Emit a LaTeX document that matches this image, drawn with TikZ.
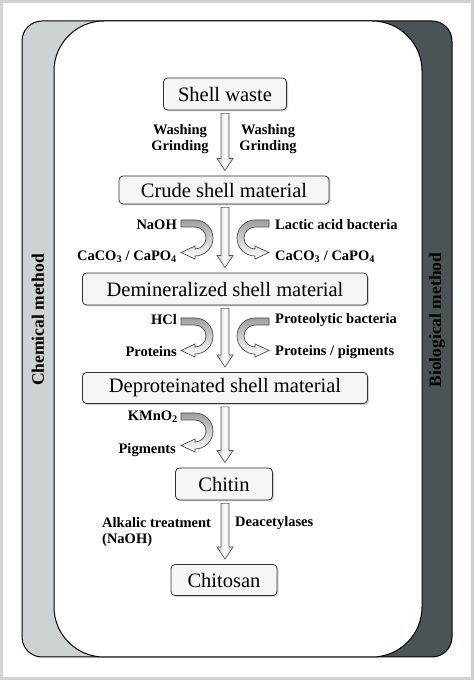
\documentclass[tikz,border=0pt]{standalone}
\usepackage{fontspec}
\setmainfont{Liberation Serif}
\usetikzlibrary{calc,shadows}
\definecolor{chemgray}{RGB}{205,211,211}
\definecolor{biogray}{RGB}{74,84,86}
\tikzset{
  box/.style={draw=black!80,line width=.8pt,rounded corners=4pt,fill=gray!8,minimum height=31pt,inner sep=0pt,
    font=\fontsize{20.5}{23}\selectfont,drop shadow={shadow xshift=1.5pt,shadow yshift=-1.5pt,opacity=.35}},
  lbl/.style={font=\fontsize{14.5}{16}\selectfont\bfseries,inner sep=0pt},
  side/.style={font=\fontsize{17.5}{20}\selectfont\bfseries,rotate=90},
  flow/.style={draw=black!65,line width=.7pt,left color=gray!45,right color=gray!45,middle color=white},
  bendarrow/.pic={
    \shade[top color=gray!75,bottom color=white,draw=black!70,line width=.7pt]
      (-14,18)--(0,18) arc (90:-90:18)--(0,-21)--(-14,-14.5)--(0,-8)--(0,-11) arc (-90:90:11)--(-14,11)--cycle;
  }
}
\newcommand{\flowarrow}[2]{%
  \draw[flow] let \p1=($(#1.south)+(0,-3)$), \p2=($(#2.north)+(0,5)$) in
    (221,\y1)--(229,\y1)--(229,\y2+12)--(233,\y2+12)--(225,\y2)--(217,\y2+12)--(221,\y2+12)--cycle;
}

\begin{document}
\begin{tikzpicture}[x=1pt,y=1pt]
\useasboundingbox (0,0) rectangle (474,680);
\fill[white] (0,0) rectangle (474,680);
\draw[gray!35,line width=3pt] (1.5,1.5) rectangle (472.5,678.5);
%frame
\begin{scope}
\clip[rounded corners=20] (22,23) rectangle (452,659);
\fill[chemgray] (22,23) rectangle (237,659);
\fill[biogray] (237,23) rectangle (452,659);
\end{scope}
\draw[line width=1pt,rounded corners=20] (22,23) rectangle (452,659);
\filldraw[fill=white,draw=black,line width=1pt,rounded corners=50] (54,23) rectangle (422,659);
\node[side] (chem) at (38,360) {Chemical method};
\node[side] (bio) at (437,360) {Biological method};
%boxes
\node[box,minimum width=123pt,minimum height=32pt] (waste) at (225,586) {Shell waste};
\node[box,minimum width=210pt,minimum height=28pt] (crude) at (224,490) {Crude shell material};
\node[box,minimum width=285pt,minimum height=32pt] (demin) at (225,391) {Demineralized shell material};
\node[box,minimum width=285pt] (deprot) at (225,292) {Deproteinated shell material};
\node[box,minimum width=97pt,minimum height=32pt] (chitin) at (224,196) {Chitin};
\node[box,minimum width=106pt] (chitosan) at (224,100) {Chitosan};
%arrows
\flowarrow{waste}{crude}
\flowarrow{crude}{demin}
\flowarrow{demin}{deprot}
\flowarrow{deprot}{chitin}
\flowarrow{chitin}{chitosan}
\pic at (195,442) {bendarrow};
\pic[xscale=-1] at (255,442) {bendarrow};
\pic at (195,344) {bendarrow};
\pic[xscale=-1] at (255,344) {bendarrow};
\pic at (195,249) {bendarrow};
%labels
\node[lbl,align=center] (wash1) at (180,541) {Washing\\Grinding};
\node[lbl,align=center] (wash2) at (268,541) {Washing\\Grinding};
\node[lbl,anchor=east] (naoh) at (177,455) {NaOH};
\node[lbl,anchor=east] (ca1) at (177,423) {CaCO\textsubscript{3} / CaPO\textsubscript{4}};
\node[lbl,anchor=west] (lab) at (275,455) {Lactic acid bacteria};
\node[lbl,anchor=west] (ca2) at (275,423) {CaCO\textsubscript{3} / CaPO\textsubscript{4}};
\node[lbl,anchor=east] (hcl) at (177,360) {HCl};
\node[lbl,anchor=east] (prot1) at (177,328) {Proteins};
\node[lbl,anchor=west] (pbac) at (275,360) {Proteolytic bacteria};
\node[lbl,anchor=west] (prot2) at (275,328) {Proteins / pigments};
\node[lbl,anchor=east] (kmno) at (178,263) {KMnO\textsubscript{2}};
\node[lbl,anchor=east] (pigm) at (176,230) {Pigments};
\node[lbl,anchor=west,align=left] (alk) at (102,148) {Alkalic treatment\\(NaOH)};
\node[lbl,anchor=west] (deac) at (235,157) {Deacetylases};
\end{tikzpicture}
\end{document}
